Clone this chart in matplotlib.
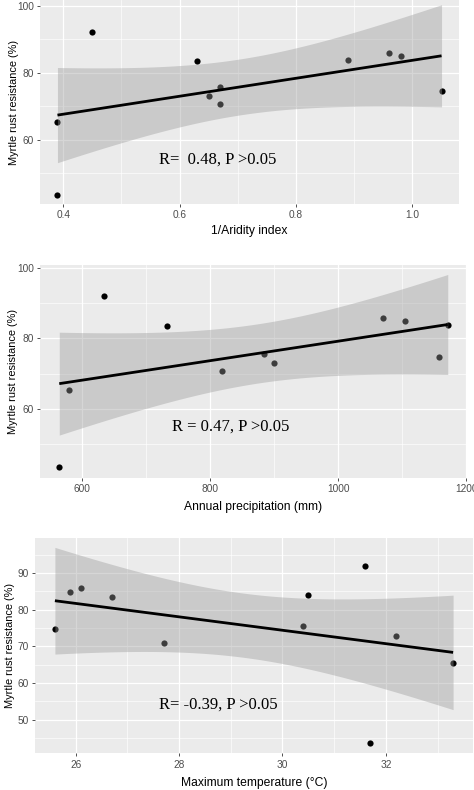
import numpy as np
import matplotlib
matplotlib.use("Agg")
import matplotlib.pyplot as plt
from matplotlib.ticker import FixedLocator

# ---- data ----
resistance = [65.4, 43.5, 92.0, 83.5, 72.9, 75.6, 70.8, 83.9, 85.9, 84.9, 74.6]
aridity_inv = [0.39, 0.39, 0.45, 0.63, 0.65, 0.67, 0.67, 0.89, 0.96, 0.98, 1.05]
precip = [579, 564, 634, 733, 899, 884, 819, 1171, 1070, 1104, 1157]
max_temp = [33.3, 31.7, 31.6, 26.7, 32.2, 30.4, 27.7, 30.5, 26.1, 25.9, 25.6]

ylabel = "Myrtle rust resistance (%)"
xlabels = ["1/Aridity index", "Annual precipitation (mm)", "Maximum temperature (°C)"]
annotations = ["R=  0.48, P >0.05", "R = 0.47, P >0.05", "R= -0.39, P >0.05"]
T_CRIT = 2.262  # t(0.975, df=9)

plt.rcParams['font.family'] = ['Liberation Sans', 'DejaVu Sans']

fig = plt.figure(figsize=(4.74, 7.90), dpi=100)

panels = [
    dict(x=aridity_inv, rect=[40/474, 1-204/790, 419/474, 204/790],
         xlim=(0.360, 1.080), ylim=(40.8, 101.7),
         xmaj=[0.4, 0.6, 0.8, 1.0], xminor=[0.5, 0.7, 0.9], xtl=["0.4", "0.6", "0.8", "1.0"],
         ymaj=[60, 80, 100], yminor=[50, 70, 90],
         txt=(0.565, 54.0), ylx=-0.050, xlpad=3.5),
    dict(x=precip, rect=[40/474, 1-477.7/790, 426.7/474, 212.7/790],
         xlim=(533.9, 1200.6), ylim=(40.56, 100.76),
         xmaj=[600, 800, 1000, 1200], xminor=[700, 900, 1100], xtl=["600", "800", "1000", "1200"],
         ymaj=[60, 80, 100], yminor=[50, 70, 90],
         txt=(740, 55.0), ylx=-0.051, xlpad=5),
    dict(x=max_temp, rect=[35/474, 1-753.3/790, 438/474, 215.3/790],
         xlim=(25.215, 33.685), ylim=(40.8, 99.5),
         xmaj=[26, 28, 30, 32], xminor=[25, 27, 29, 31, 33], xtl=["26", "28", "30", "32"],
         ymaj=[50, 60, 70, 80, 90], yminor=[45, 55, 65, 75, 85, 95],
         txt=(27.62, 54.0), ylx=-0.045, xlpad=5.5),
]

y = np.array(resistance)
for i, p in enumerate(panels):
    ax = fig.add_axes(p['rect'])
    ax.set_facecolor('#ebebeb')
    for s in ax.spines.values():
        s.set_visible(False)
    x = np.array(p['x'], dtype=float)
    n = len(x)
    b, a = np.polyfit(x, y, 1)
    xs = np.linspace(x.min(), x.max(), 200)
    yhat = a + b * xs
    resid = y - (a + b * x)
    s_err = np.sqrt(np.sum(resid**2) / (n - 2))
    sxx = np.sum((x - x.mean())**2)
    se = s_err * np.sqrt(1/n + (xs - x.mean())**2 / sxx)

    ax.scatter(x, y, s=20, color='black', zorder=3, linewidths=0)
    ax.fill_between(xs, yhat - T_CRIT*se, yhat + T_CRIT*se, color='#999999', alpha=0.4,
                    linewidth=0, zorder=4)
    ax.plot(xs, yhat, color='black', lw=2.0, zorder=5, solid_capstyle='butt')

    ax.set_xlim(*p['xlim'])
    ax.set_ylim(*p['ylim'])
    ax.xaxis.set_major_locator(FixedLocator(p['xmaj']))
    ax.set_xticklabels(p['xtl'])
    ax.xaxis.set_minor_locator(FixedLocator(p['xminor']))
    ax.yaxis.set_major_locator(FixedLocator(p['ymaj']))
    ax.yaxis.set_minor_locator(FixedLocator(p['yminor']))
    ax.grid(which='major', color='white', lw=0.9, zorder=0)
    ax.grid(which='minor', color='white', lw=0.45, zorder=0)
    ax.set_axisbelow(True)
    ax.tick_params(which='major', length=2.5, width=0.6, color='#333333',
                   labelsize=7.3, labelcolor='#4d4d4d', pad=2)
    ax.tick_params(which='minor', length=0)
    ax.set_xlabel(xlabels[i], fontsize=8.7, color='black', labelpad=p['xlpad'])
    ax.set_ylabel(ylabel, fontsize=7.9, color='black')
    ax.yaxis.set_label_coords(p['ylx'], 0.5)
    ax.text(p['txt'][0], p['txt'][1], annotations[i], family=['Liberation Serif', 'DejaVu Serif'],
            fontsize=12, ha='left', va='center', color='black', zorder=6)

fig.savefig('out.png', dpi=100)
